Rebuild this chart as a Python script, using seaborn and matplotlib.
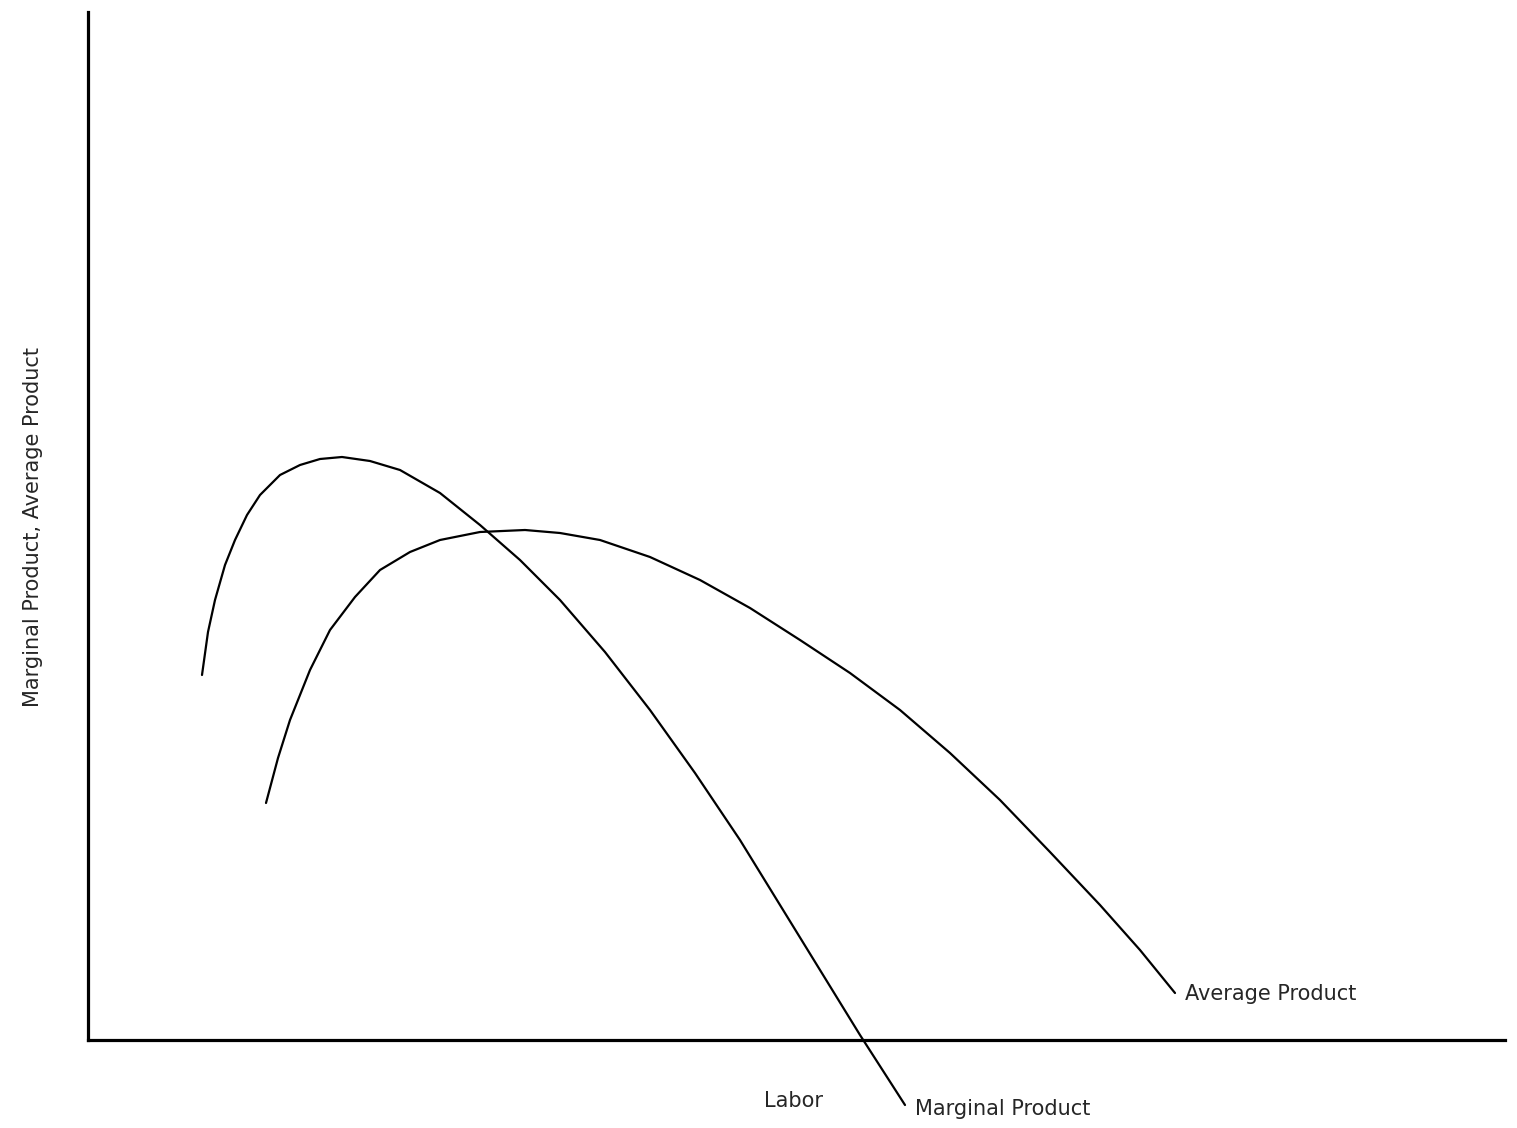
import matplotlib
matplotlib.use("Agg")
import matplotlib.pyplot as plt
import seaborn as sns
import pandas as pd

# pixel-read points converted to data units (x = px-88, y = 1040-py)
mp_px = [202,208,215,225,235,247,260,280,300,320,342,370,400,440,480,520,560,605,650,695,740,780,820,860,905]
mp_py = [675,632,600,565,540,515,495,475,465,459,457,461,470,493,525,560,600,652,710,773,840,905,970,1035,1105]
ap_px = [266,278,290,310,330,355,380,410,440,480,525,560,600,650,700,750,800,850,900,950,1000,1050,1100,1140,1175]
ap_py = [803,758,720,670,630,597,570,552,540,532,530,533,540,557,580,608,640,673,710,753,800,852,905,950,993]

mp = pd.DataFrame({"x": [p-88 for p in mp_px], "y": [1040-p for p in mp_py]})
ap = pd.DataFrame({"x": [p-88 for p in ap_px], "y": [1040-p for p in ap_py]})

sns.set_style("white")
fig = plt.figure(figsize=(15.17, 11.28), dpi=100)
ax = fig.add_axes([88/1517, 88/1128, 1417/1517, 1028/1128])
sns.lineplot(data=mp, x="x", y="y", sort=False, color="black", lw=1.6, ax=ax, clip_on=False)
sns.lineplot(data=ap, x="x", y="y", sort=False, color="black", lw=1.6, ax=ax, clip_on=False)
for l in ax.lines:
    l.set_clip_on(False)
ax.set_xlim(0, 1417)
ax.set_ylim(0, 1028)
ax.set_xticks([]); ax.set_yticks([])
ax.set_xlabel(""); ax.set_ylabel("")
for s in ["top", "right"]:
    ax.spines[s].set_visible(False)
for s in ["left", "bottom"]:
    ax.spines[s].set_linewidth(2.3)
    ax.spines[s].set_color("black")

fs = 15
ax.text(1185-88, 1040-994, "Average Product", fontsize=fs, va="center", ha="left")
ax.text(915-88, 1040-1109, "Marginal Product", fontsize=fs, va="center", ha="left", clip_on=False)
ax.text(793-88, 1040-1101, "Labor", fontsize=fs, va="center", ha="center", clip_on=False)
fig.text(33/1517, 1-527/1128, "Marginal Product, Average Product", fontsize=fs,
         rotation=90, va="center", ha="center")
fig.savefig("out.png", dpi=100)
